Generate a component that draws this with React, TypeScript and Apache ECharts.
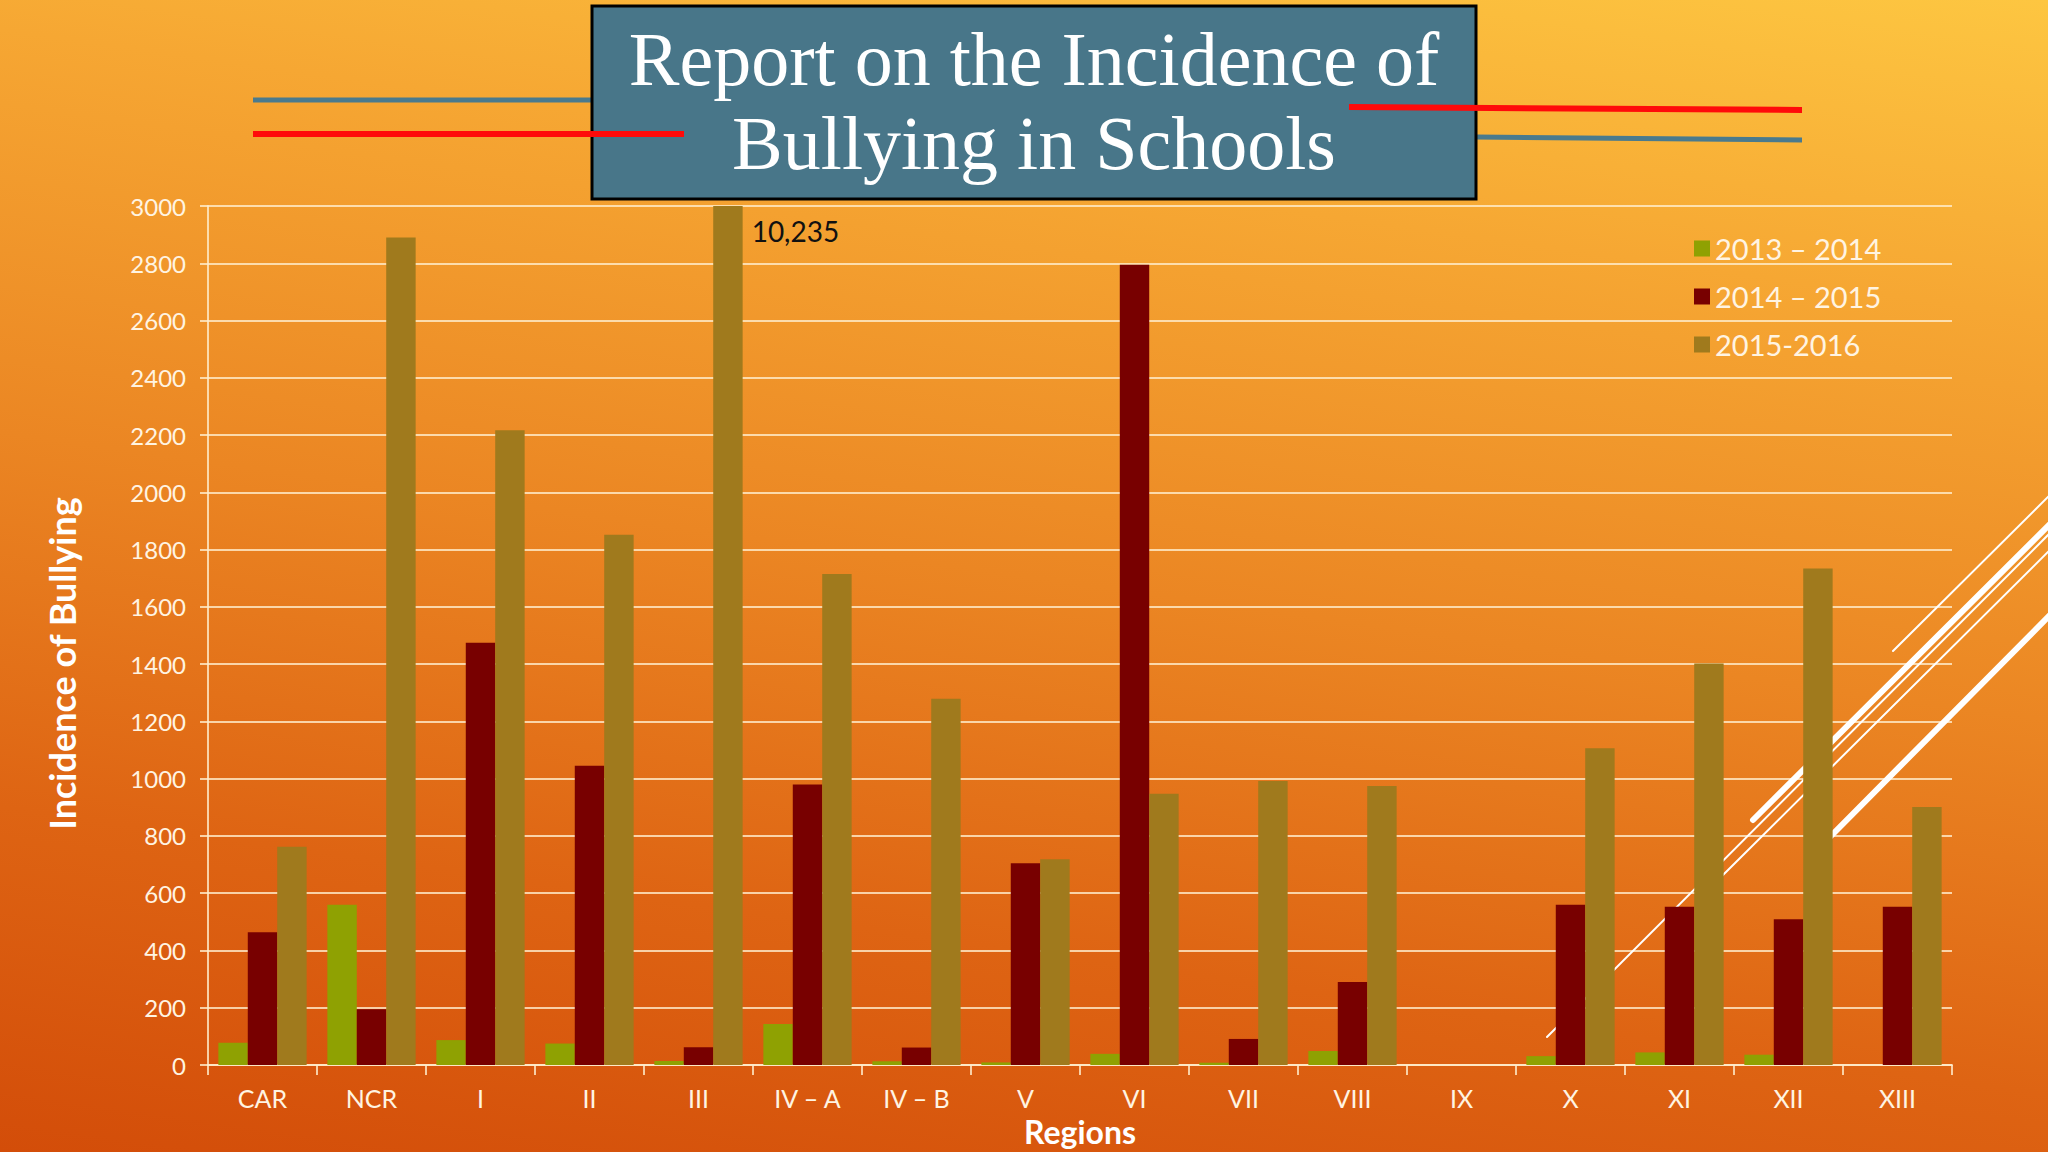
import React, { useEffect, useRef } from "react";
import * as echarts from "echarts";

const regions = ["CAR", "NCR", "I", "II", "III", "IV – A", "IV – B", "V", "VI", "VII", "VIII", "IX", "X", "XI", "XII", "XIII"];
const seriesNames = ["2013 – 2014", "2014 – 2015", "2015-2016"];
const y2013 = [78, 560, 87, 75, 14, 143, 13, 9, 39, 8, 49, 0, 31, 44, 36, 0];
const y2014 = [464, 195, 1475, 1045, 62, 980, 61, 705, 2795, 91, 290, 0, 560, 553, 509, 553];
const y2015 = [762, 2890, 2217, 1852, 10235, 1715, 1279, 719, 947, 992, 974, 0, 1106, 1402, 1734, 901];
const annotatedRegion = "III";
const titleLines = ["Report on the Incidence of", "Bullying in Schools"];
const colors = ["#8FA102", "#780000", "#A07A1D"];

const cream = "rgba(255,238,205,0.8)";
const labelColor = "#FFF4E2";

export default function App() {
  const ref = useRef<HTMLDivElement>(null);
  useEffect(() => {
    if (!ref.current) return;
    const chart = echarts.init(ref.current, null, { renderer: "svg" });
    const olive = y2015.map((v, i) =>
      regions[i] === annotatedRegion
        ? {
            value: v,
            label: {
              show: true,
              position: ["100%", 0],
              offset: [9, 11],
              align: "left",
              verticalAlign: "top",
              color: "#111",
              fontSize: 28,
              fontFamily: "Lato",
              formatter: (p: any) => Number(p.value).toLocaleString("en-US"),
            },
          }
        : v
    );
    const bg = (pts: number[][], w: number) => ({
      type: "polyline",
      z: 1,
      silent: true,
      shape: { points: pts },
      style: { stroke: "#FFFFFF", lineWidth: w, lineCap: "round", fill: null },
    });
    const option: any = {
      animation: false,
      backgroundColor: "transparent",
      textStyle: { fontFamily: "Lato" },
      grid: { left: 208, right: 96, top: 206, bottom: 85, containLabel: false },
      legend: {
        orient: "vertical",
        left: 1689,
        top: 229,
        itemWidth: 16,
        itemHeight: 16,
        itemGap: 19,
        icon: "rect",
        data: seriesNames,
        textStyle: { color: labelColor, fontSize: 29, fontFamily: "Lato" },
      },
      xAxis: {
        type: "category",
        data: regions,
        name: "Regions",
        nameLocation: "middle",
        nameGap: 50,
        nameTextStyle: { color: "#FFFFFF", fontSize: 32, fontWeight: "bold", fontFamily: "Lato" },
        axisLine: { show: true, lineStyle: { color: cream, width: 2 } },
        axisTick: { show: true, length: 10, lineStyle: { color: cream, width: 2 } },
        axisLabel: { color: labelColor, fontSize: 25, margin: 20, fontFamily: "Lato" },
        splitLine: { show: false },
      },
      yAxis: {
        type: "value",
        min: 0,
        max: 3000,
        interval: 200,
        name: "Incidence of Bullying",
        nameLocation: "middle",
        nameGap: 128,
        nameTextStyle: { color: "#FFFFFF", fontSize: 36, fontWeight: "bold", fontFamily: "Lato", padding: [0, 56, 0, 0] },
        axisLine: { show: true, lineStyle: { color: cream, width: 2 } },
        axisTick: { show: true, inside: false, length: 8, lineStyle: { color: cream, width: 2 } },
        axisLabel: { color: labelColor, fontSize: 24, margin: 22, fontFamily: "Lato", formatter: (v: number) => String(v) },
        splitLine: { show: true, lineStyle: { color: cream, width: 2 } },
      },
      series: [
        { name: seriesNames[0], type: "bar", data: y2013, itemStyle: { color: colors[0] }, barGap: "0%", barCategoryGap: "19%", z: 2 },
        { name: seriesNames[1], type: "bar", data: y2014, itemStyle: { color: colors[1] }, barGap: "0%", barCategoryGap: "19%", z: 2 },
        { name: seriesNames[2], type: "bar", data: olive, itemStyle: { color: colors[2] }, barGap: "0%", barCategoryGap: "19%", z: 2, clip: true },
      ],
      graphic: [
        bg([[1893, 651], [2060, 485]], 2),
        bg([[1753, 820], [2060, 514]], 6),
        bg([[1547, 1037], [2060, 523]], 2),
        bg([[1722, 876], [2060, 540]], 2),
        bg([[1822, 845], [2060, 605]], 6),
        {
          type: "line",
          z: 20,
          shape: { x1: 253, y1: 100, x2: 592, y2: 100 },
          style: { stroke: "#4A7A8D", lineWidth: 5 },
        },
        {
          type: "line",
          z: 20,
          shape: { x1: 1476, y1: 137, x2: 1802, y2: 140 },
          style: { stroke: "#4A7A8D", lineWidth: 5 },
        },
        {
          type: "rect",
          z: 21,
          shape: { x: 592, y: 6, width: 884, height: 193 },
          style: { fill: "#487689", stroke: "#000000", lineWidth: 3 },
        },
        {
          type: "line",
          z: 22,
          shape: { x1: 253, y1: 134, x2: 684, y2: 134 },
          style: { stroke: "#FF0A0A", lineWidth: 6 },
        },
        {
          type: "line",
          z: 22,
          shape: { x1: 1349, y1: 107, x2: 1802, y2: 110 },
          style: { stroke: "#FF0A0A", lineWidth: 6 },
        },
        {
          type: "text",
          z: 23,
          x: 1034,
          y: 59,
          style: {
            text: titleLines[0],
            fill: "#FFFFFF",
            fontSize: 76,
            fontFamily: "Liberation Serif",
            align: "center",
            verticalAlign: "middle",
          },
        },
        {
          type: "text",
          z: 23,
          x: 1034,
          y: 143,
          style: {
            text: titleLines[1],
            fill: "#FFFFFF",
            fontSize: 76,
            fontFamily: "Liberation Serif",
            align: "center",
            verticalAlign: "middle",
          },
        },
      ],
    };
    chart.setOption(option);
    return () => chart.dispose();
  }, []);
  return (
    <div
      style={{
        position: "fixed",
        left: 0,
        top: 0,
        width: 2048,
        height: 1152,
        background: "linear-gradient(188deg, #FDC641 0%, #F6A733 22%, #EB8623 50%, #DE6413 76%, #D34D09 100%)",
      }}
    >
      <div ref={ref} style={{ width: 2048, height: 1152 }} />
    </div>
  );
}
